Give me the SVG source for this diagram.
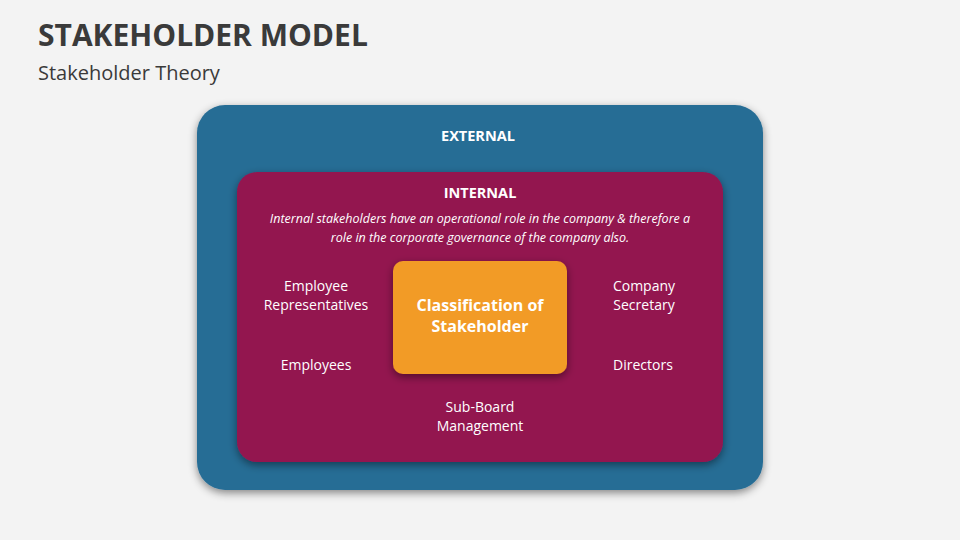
<svg xmlns="http://www.w3.org/2000/svg" width="960" height="540" viewBox="0 0 960 540">
<style>
text{font-family:"Open Sans","Liberation Sans",sans-serif;fill:#fff;text-anchor:middle}
.l{font-size:14px}
.h{font-size:14.5px;font-weight:bold}
</style>
<defs>
<filter id="sh" x="-10%" y="-10%" width="120%" height="125%"><feDropShadow dx="0" dy="3" stdDeviation="4" flood-opacity="0.45"/></filter>
</defs>
<rect width="960" height="540" fill="#f3f3f3"/>
<text x="38" y="46" style="font-size:30px;font-weight:bold;fill:#3a3a3a;text-anchor:start">STAKEHOLDER MODEL</text>
<text x="38" y="80" style="font-size:20px;fill:#3a3a3a;text-anchor:start">Stakeholder Theory</text>
<g id="external">
<rect x="197" y="105" width="566" height="385" rx="28" fill="#286d95" filter="url(#sh)"/>
<text x="478" y="141" class="h">EXTERNAL</text>
</g>
<g id="internal">
<rect x="237" y="172" width="486" height="290" rx="20" fill="#931550" filter="url(#sh)"/>
<text x="480" y="198" class="h">INTERNAL</text>
<text x="480" y="223" style="font-size:12.5px;font-style:italic">Internal stakeholders have an operational role in the company &amp; therefore a</text>
<text x="480" y="242" style="font-size:12.5px;font-style:italic">role in the corporate governance of the company also.</text>
</g>
<g id="center">
<rect x="393" y="261" width="174" height="113" rx="10" fill="#f29b26" filter="url(#sh)"/>
<text x="480" y="311" style="font-size:16px;font-weight:bold">Classification of</text>
<text x="480" y="332" style="font-size:16px;font-weight:bold">Stakeholder</text>
</g>
<g id="employee-reps"><text x="316" y="291" class="l">Employee</text><text x="316" y="310" class="l">Representatives</text></g>
<g id="employees"><text x="316" y="370" class="l">Employees</text></g>
<g id="company-secretary"><text x="644" y="291" class="l">Company</text><text x="644" y="310" class="l">Secretary</text></g>
<g id="directors"><text x="643" y="370" class="l">Directors</text></g>
<g id="sub-board"><text x="480" y="412" class="l">Sub-Board</text><text x="480" y="431" class="l">Management</text></g>
<g id="connectors"></g>
</svg>
